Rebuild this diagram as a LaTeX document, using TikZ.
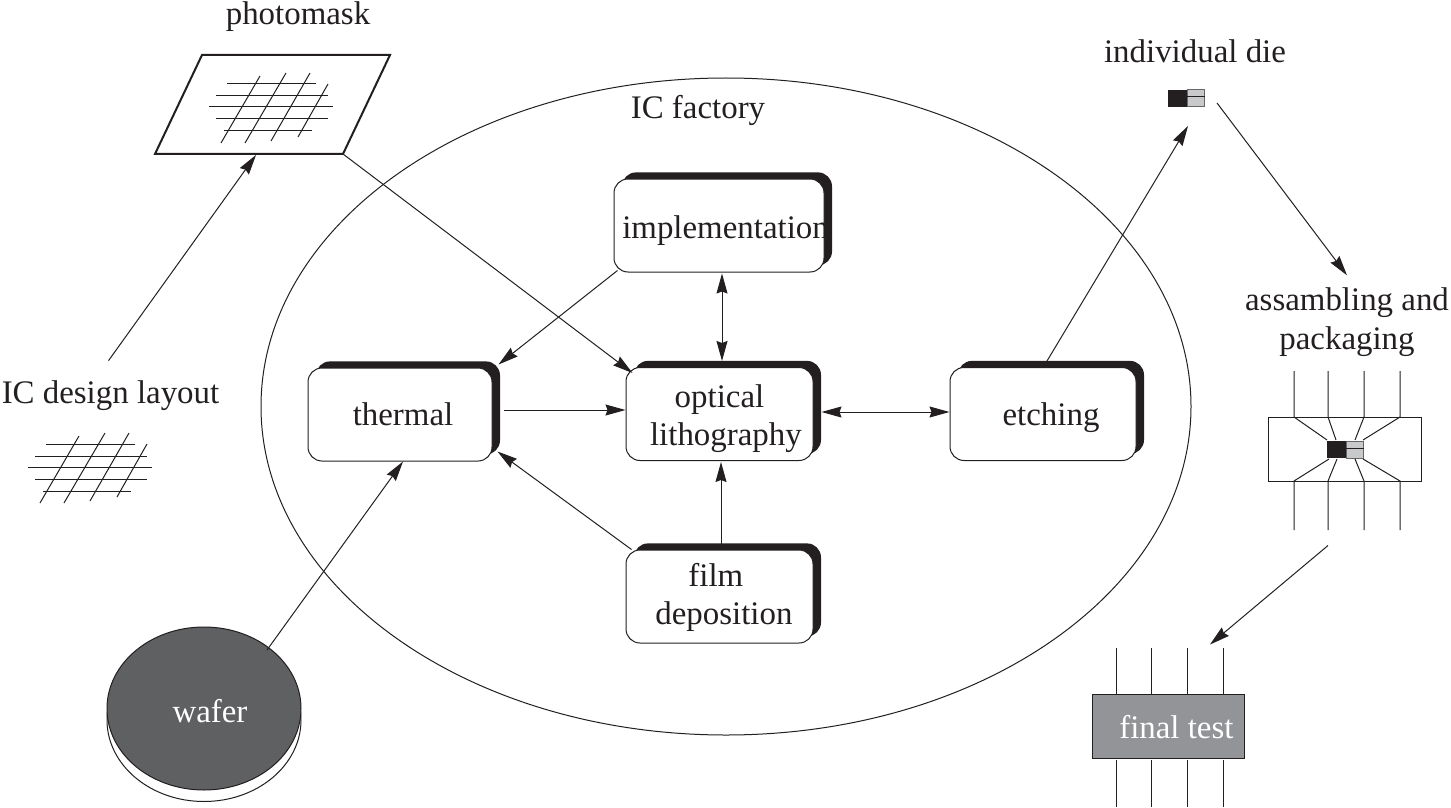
\documentclass[tikz,border=0pt]{standalone}
\usepackage{fontspec}
\setmainfont{Liberation Serif}
\usetikzlibrary{arrows.meta}
\usetikzlibrary{shapes.geometric}
\usetikzlibrary{shadows}
\definecolor{inkblack}{HTML}{231F20}
\definecolor{wafergray}{HTML}{5F6062}
\definecolor{testgray}{HTML}{929497}
\definecolor{chipgray}{HTML}{C8C9CA}
\newcommand{\nudge}[2]{\hspace*{#1}#2\hspace*{-#1}}
\newcommand{\lowered}[1]{\rule{0pt}{#1}}
\tikzset{
  labeltext/.style={inner sep=0pt,align=center},
  processbox/.style={draw,fill=white,rounded corners=7pt,inner sep=0pt,align=center,
    minimum height=46.5pt,
    general shadow={fill=inkblack,shadow xshift=4pt,shadow yshift=3.3pt}},
  icgrid/.pic={
    \foreach \y/\a/\b in {-23/-44/45,-11/-55/57,0/-62/62,12/-55/57,24/-47/41}
      \draw (\a,\y) -- (\b,\y);
    \draw (-11,-31) -- (-50,36);
    \draw (15,-34) -- (-26,36);
    \draw (39,-34) -- (0,34);
    \draw (57,-23) -- (27,30);
  },
  diechip/.pic={
    \coordinate (-center) at (18,8.5);
    \fill [inkblack] (0,0) rectangle (19,17);
    \draw [fill=chipgray,draw=black!60] (19,0) rectangle (36,17);
    \draw (19,7) -- (37,7);
  }
}
\begin{document}
\begin{tikzpicture}[
  x=0.5pt,y=-0.5pt,line width=0.5pt,color=inkblack,
  >={Stealth[length=10pt,width=5.5pt,inset=1pt]},
  every node/.style={font=\fontsize{16.45}{19.2}\selectfont}
  ]
  \useasboundingbox (0,0) rectangle (1451,808);

  \node (factory) [draw,ellipse,inner sep=0pt,minimum width=465pt,minimum height=328.5pt] at (726,406.5) {};
  \node (factorylabel) [labeltext,anchor=base] at (698,119) {IC factory};

  \node (implementation) [processbox,minimum width=105pt] at (719,225.5) {\lowered{17pt}\nudge{3.25pt}{implementation}};
  \node (thermal)        [processbox,minimum width=92pt]  at (400,414.5) {\nudge{1.5pt}{thermal}};
  \node (optical)        [processbox,minimum width=93.5pt] at (719.5,414) {\lowered{16pt}optical\\\nudge{3.2pt}{lithography}};
  \node (etching)        [processbox,minimum width=93pt]  at (1043,414) {\lowered{15pt}\nudge{4pt}{etching}};
  \node (film)           [processbox,minimum width=93.5pt] at (719.5,596.5) {\lowered{12.2pt}\nudge{-1.8pt}{film}\\\nudge{2.2pt}{deposition}};

  \coordinate (masktl) at (202,55);
  \coordinate (masktr) at (390,55);
  \coordinate (maskbr) at (343,154);
  \coordinate (maskbl) at (155,154);
  \coordinate (masktip) at (256,155);
  \draw [line width=1pt,fill=white] (masktl) -- (masktr) -- (maskbr) -- (maskbl) -- cycle;
  \pic at (271,107) {icgrid};
  \node (photomask) [labeltext,anchor=base] at (298,25) {photomask};

  \node (layout) [labeltext,anchor=base] at (110.5,403) {IC design layout};
  \pic at (90,467) {icgrid};

  \node (waferbase) [draw,fill=white,ellipse,inner sep=0pt,minimum width=97pt,minimum height=81.5pt] at (204,720) {};
  \node (wafer) [draw,fill=wafergray,text=white,ellipse,inner sep=0pt,minimum width=97pt,minimum height=81.5pt] at (204,708.5) {\lowered{14pt}\nudge{3pt}{wafer}};

  \node (dielabel) [labeltext,anchor=base] at (1195,63) {individual die};
  \pic (die) at (1168,90) {diechip};

  \node (assembly) [labeltext] at (1347,322) {assambling and\\packaging};
  \node (package) [draw,inner sep=0pt,minimum width=76.5pt,minimum height=32pt] at (1344.5,449) {};
  \pic (packdie) at (1327,441) {diechip};
  \foreach \x/\t/\b in {1294/1327/1329,1328/1336/1337,1364/1355/1355,1400/1363/1363} {
    \draw (\x,371) -- (\x,417) -- (\t,440);
    \draw (\x,530) -- (\x,481) -- (\b,459);
  }

  \node (finaltest) [draw,fill=testgray,text=white,inner sep=0pt,minimum width=76pt,minimum height=32pt] at (1168,726) {\lowered{13pt}\nudge{4.2pt}{final test}};
  \foreach \x in {1116,1151,1187,1223} {
    \draw (\x,648) -- (\x,694);
    \draw (\x,760) -- (\x,807);
  }

  \draw [->] ([shift={(-2,-19)}]layout.north) -- (masktip);
  \draw [->] (maskbr) -- ([shift={(7,6)}]optical.north west);
  \draw [<->] ([shift={(3,1)}]implementation.south) -- ([shift={(2.5,-6)}]optical.north);
  \draw [->] ([shift={(4,-2)}]implementation.south west) -- ([shift={(6,-3)}]thermal.north east);
  \draw [->] ([shift={(11,-4.5)}]thermal.east) -- ([shift={(0,-4)}]optical.west);
  \draw [->] ([shift={(1.5,-6)}]film.north) -- ([shift={(1.5,1)}]optical.south);
  \draw [->] ([shift={(6,0)}]film.north west) -- ([shift={(5,-10)}]thermal.south east);
  \draw [->] ([shift={(63,-58.5)}]wafer.center) -- ([shift={(3,0)}]thermal.south);
  \draw [<->] ([shift={(8,-2)}]optical.east) -- ([shift={(0,-2)}]etching.west);
  \draw [->] ([shift={(4,-6)}]etching.north) -- ([shift={(2,27.5)}]die-center);
  \draw [->] ([shift={(31,4.5)}]die-center) -- ([yshift=6pt]assembly.north);
  \draw [->] ([shift={(-16.5,64)}]package.south) -- ([shift={(42,-49)}]finaltest.north);
\end{tikzpicture}
\end{document}
